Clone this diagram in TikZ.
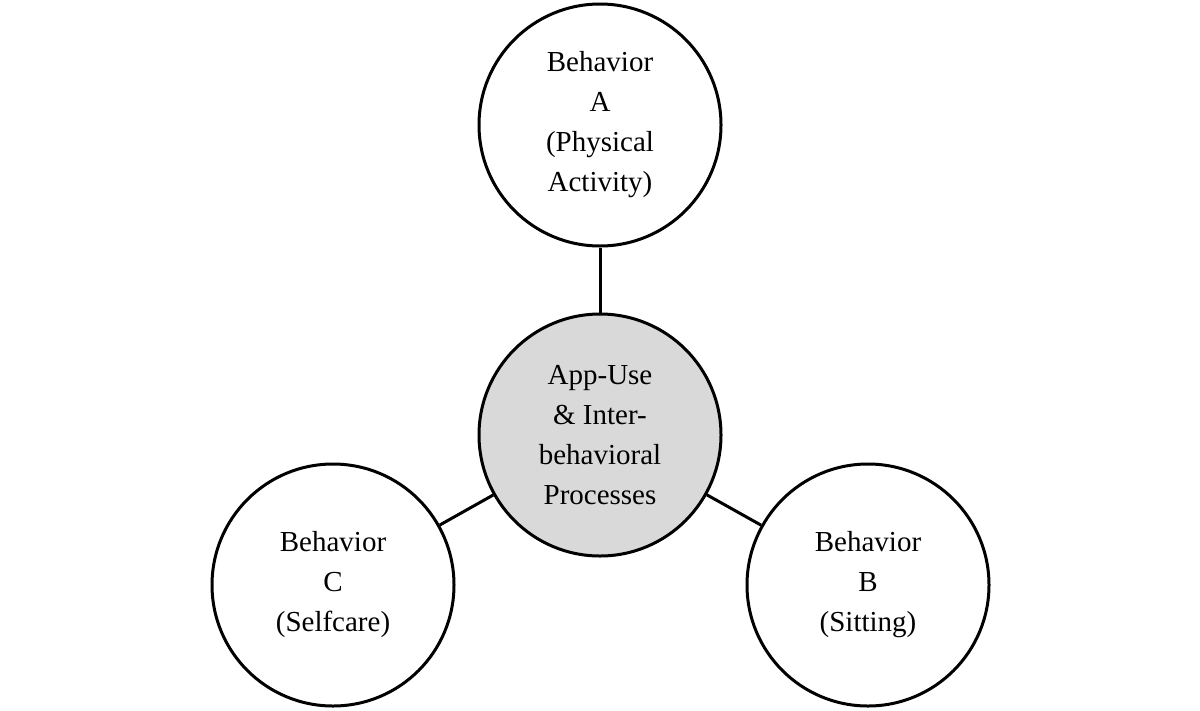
\documentclass[tikz,border=0pt]{standalone}
\usepackage{fontspec}
\setmainfont{Liberation Serif}
\begin{document}
\begin{tikzpicture}[x=1pt,y=-1pt,
  circ/.style={circle,draw=black,line width=3pt,minimum size=242pt,inner sep=0pt,align=center,font=\fontsize{29}{40}\selectfont},
  link/.style={line width=3pt}]
\useasboundingbox (0,0) rectangle (1200,710);
\node[circ,fill=white] (a) at (600,125) {Behavior\\A\\(Physical\\Activity)};
\node[circ,fill=black!15] (m) at (600,435) {App-Use\\\& Inter-\\behavioral\\Processes};
\node[circ,fill=white] (c) at (333,585) {Behavior\\C\\(Selfcare)};
\node[circ,fill=white] (b) at (868,585) {Behavior\\B\\(Sitting)};
\draw[link] (m) -- (a);
\draw[link] (m) -- (b);
\draw[link] (m) -- (c);
\end{tikzpicture}
\end{document}
